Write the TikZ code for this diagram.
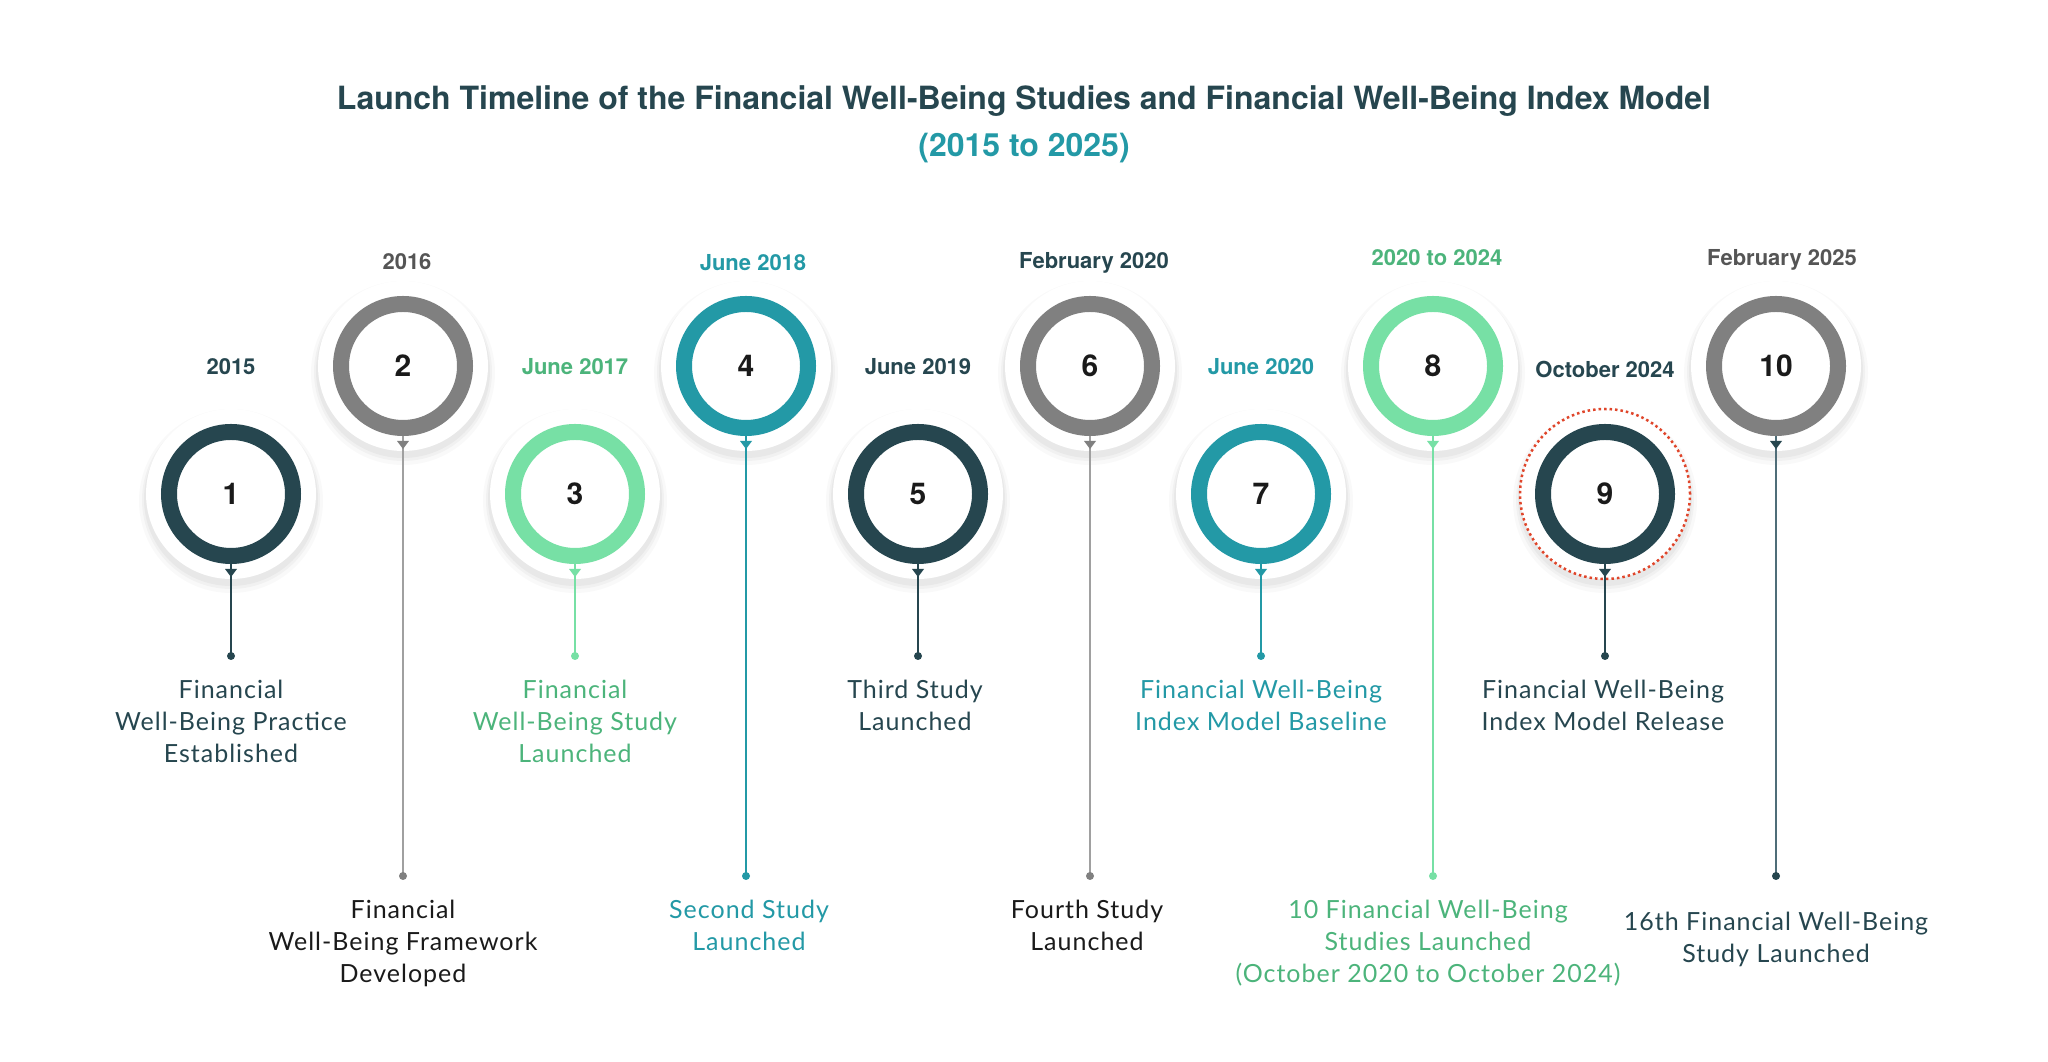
\documentclass[tikz,border=0pt]{standalone}
\usepackage{fontspec}
\setmainfont{TeX Gyre Heros}
\newfontfamily\descfont[LetterSpace=4]{Lato}
\definecolor{fwdark}{HTML}{26464F}
\definecolor{fwgrey}{HTML}{808080}
\definecolor{fwstem}{HTML}{A0A0A0}
\definecolor{fwmint}{HTML}{77E0A5}
\definecolor{fwteal}{HTML}{2399A6}
\definecolor{fwgreen}{HTML}{4CB47B}
\definecolor{fwlabel}{HTML}{555555}
\definecolor{fwblack}{HTML}{1A1A1A}
\definecolor{fwslate}{HTML}{4F6D78}
\definecolor{fwred}{HTML}{E0452A}

\begin{document}
\begin{tikzpicture}[x=1pt,y=1pt,
  ring/.style={circle,draw,line width=16pt,minimum size=124pt,inner sep=0pt,fill=white,
    text=fwblack,font=\fontsize{30}{30}\selectfont\bfseries},
  datelbl/.style={font=\fontsize{22}{22}\selectfont\bfseries},
  desc/.style={font=\descfont\fontsize{25}{32}\selectfont,align=center,anchor=north,inner sep=0pt},
  stem/.style={line width=1.4pt},
  highlight/.style={draw=fwred,line width=2.5pt,dash pattern=on 2.5pt off 3pt}]
  \useasboundingbox[fill=white] (0,0) rectangle (2048,1062);

  % title
  \node[font=\fontsize{32}{32}\selectfont\bfseries,text=fwdark] (title) at (1024,961)
    {Launch Timeline of the Financial Well-Being Studies and Financial Well-Being Index Model};
  \node[font=\fontsize{32}{32}\selectfont\bfseries,text=fwteal] (subtitle) at (1024,914) {(2015 to 2025)};

  % soft halos behind the rings
  \foreach \x/\y in {231/568,403/696,575/568,746/696,918/568,1090/696,1261/568,1433/696,1605/568,1776/696} {
    \fill[black,opacity=0.025] (\x,\y-7) circle (92);
    \fill[black,opacity=0.03] (\x,\y-6) circle (89);
    \fill[black,opacity=0.035] (\x,\y-5) circle (87);
    \fill[white] (\x,\y) circle (85);
  }

  % rings
  \node[ring,draw=fwdark] (r1) at (231,568) {1};
  \node[ring,draw=fwgrey] (r2) at (403,696) {2};
  \node[ring,draw=fwmint] (r3) at (575,568) {3};
  \node[ring,draw=fwteal] (r4) at (746,696) {4};
  \node[ring,draw=fwdark] (r5) at (918,568) {5};
  \node[ring,draw=fwgrey] (r6) at (1090,696) {6};
  \node[ring,draw=fwteal] (r7) at (1261,568) {7};
  \node[ring,draw=fwmint] (r8) at (1433,696) {8};
  \node[ring,draw=fwdark] (r9) at (1605,568) {9};
  \node[ring,draw=fwgrey] (r10) at (1776,696) {10};
  \draw[highlight] (r9.center) circle (85);

  % dates
  \node[datelbl,text=fwdark] (y1) at (231,695) {2015};
  \node[datelbl,text=fwlabel] (y2) at (407,800) {2016};
  \node[datelbl,text=fwgreen] (y3) at (575,695) {June 2017};
  \node[datelbl,text=fwteal] (y4) at (753,799) {June 2018};
  \node[datelbl,text=fwdark] (y5) at (918,695) {June 2019};
  \node[datelbl,text=fwdark] (y6) at (1094,799) {February 2020};
  \node[datelbl,text=fwteal] (y7) at (1261,695) {June 2020};
  \node[datelbl,text=fwgreen] (y8) at (1437,804) {2020 to 2024};
  \node[datelbl,text=fwdark] (y9) at (1605,693) {October 2024};
  \node[datelbl,text=fwlabel] (y10) at (1782,802) {February 2025};

  % stems
  \coordinate (d1) at (231,406);
  \coordinate (d2) at (403,186);
  \coordinate (d3) at (575,406);
  \coordinate (d4) at (746,186);
  \coordinate (d5) at (918,406);
  \coordinate (d6) at (1090,186);
  \coordinate (d7) at (1261,406);
  \coordinate (d8) at (1433,186);
  \coordinate (d9) at (1605,406);
  \coordinate (d10) at (1776,186);
  \draw[stem,fwdark] (r1.south) -- (d1);
  \draw[stem,fwstem] (r2.south) -- (d2);
  \draw[stem,fwmint] (r3.south) -- (d3);
  \draw[stem,fwteal] (r4.south) -- (d4);
  \draw[stem,fwdark] (r5.south) -- (d5);
  \draw[stem,fwstem] (r6.south) -- (d6);
  \draw[stem,fwteal] (r7.south) -- (d7);
  \draw[stem,fwmint] (r8.south) -- (d8);
  \draw[stem,fwdark] (r9.south) -- (d9);
  \draw[stem,fwslate] (r10.south) -- (d10);
  \fill[fwdark] (r1.south) ++(-6,-5) -- ++(12,0) -- ++(-6,-8) -- cycle (d1) circle (4);
  \fill[fwgrey] (r2.south) ++(-6,-5) -- ++(12,0) -- ++(-6,-8) -- cycle (d2) circle (4);
  \fill[fwmint] (r3.south) ++(-6,-5) -- ++(12,0) -- ++(-6,-8) -- cycle (d3) circle (4);
  \fill[fwteal] (r4.south) ++(-6,-5) -- ++(12,0) -- ++(-6,-8) -- cycle (d4) circle (4);
  \fill[fwdark] (r5.south) ++(-6,-5) -- ++(12,0) -- ++(-6,-8) -- cycle (d5) circle (4);
  \fill[fwgrey] (r6.south) ++(-6,-5) -- ++(12,0) -- ++(-6,-8) -- cycle (d6) circle (4);
  \fill[fwteal] (r7.south) ++(-6,-5) -- ++(12,0) -- ++(-6,-8) -- cycle (d7) circle (4);
  \fill[fwmint] (r8.south) ++(-6,-5) -- ++(12,0) -- ++(-6,-8) -- cycle (d8) circle (4);
  \fill[fwdark] (r9.south) ++(-6,-5) -- ++(12,0) -- ++(-6,-8) -- cycle (d9) circle (4);
  \fill[fwdark] (r10.south) ++(-6,-5) -- ++(12,0) -- ++(-6,-8) -- cycle (d10) circle (4);

  % descriptions
  \node[desc,text=fwdark] (t1) at (231,382) {Financial\\Well-Being Practice\\Established};
  \node[desc,text=fwblack] (t2) at (403,162) {Financial\\Well-Being Framework\\Developed};
  \node[desc,text=fwgreen] (t3) at (575,382) {Financial\\Well-Being Study\\Launched};
  \node[desc,text=fwteal] (t4) at (749,162) {Second Study\\Launched};
  \node[desc,text=fwdark] (t5) at (915,382) {Third Study\\Launched};
  \node[desc,text=fwblack] (t6) at (1087,162) {Fourth Study\\Launched};
  \node[desc,text=fwteal] (t7) at (1261,382) {Financial Well-Being\\Index Model Baseline};
  \node[desc,text=fwgreen] (t8) at (1428,162) {10 Financial Well-Being\\Studies Launched\\(October 2020 to October 2024)};
  \node[desc,text=fwdark] (t9) at (1603,382) {Financial Well-Being\\Index Model Release};
  \node[desc,text=fwdark] (t10) at (1776,150) {16th Financial Well-Being\\Study Launched};
\end{tikzpicture}
\end{document}
